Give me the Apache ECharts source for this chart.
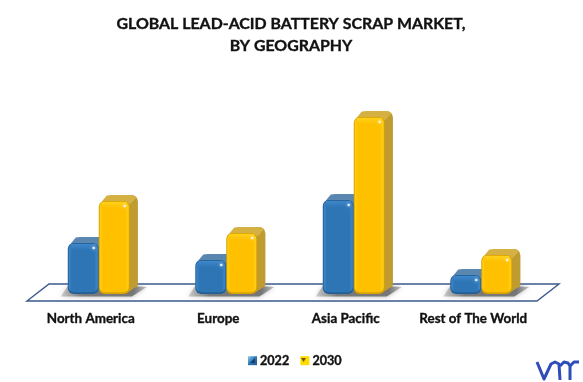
<!DOCTYPE html>
<html><head><meta charset="utf-8">
<style>html,body{margin:0;padding:0;background:#fff}#c{width:583px;height:382px}</style>
<script src="https://cdn.jsdelivr.net/npm/echarts@6/dist/echarts.min.js"></script>
</head><body><div id="c"></div>
<script>
var categories = ['North America','Europe','Asia Pacific','Rest of The World'];
var values2022 = [51,34,94,19];
var values2030 = [93,61,177,39];

var DX = 8, DY = -7, BACK = -6;
var FONT = 'Lato';
var INK = '#111';
var looks = {
  '2022': {side:0, edge:'#235f96', face:'#2e75b6', light:'#3f88c9', top:'#5a87af', back:'#4f7ba5'},
  '2030': {side:1, edge:'#d8a200', face:'#ffc000', light:'#ffd11a', top:'#d5b144', back:'#bf9b30'}
};
function barItem(look){
  return function(params, api){
    var pTop = api.coord([api.value(0), api.value(1)]);
    var p0 = api.coord([api.value(0), 0]);
    var w = api.size([1,0])[0] * 0.243;
    var cx = p0[0] + DX;
    var x = look.side ? cx : cx - w;
    var top = pTop[1] + DY, bot = p0[1] + DY, h = bot - top;
    var r = Math.min(6, h/3);
    var kids = [];
    kids.push({type:'rect', shape:{x:x+DX, y:top+BACK, width:w, height:h, r:r}, style:{fill:look.back}});
    kids.push({type:'polygon', shape:{points:[
      [x+1,top+3],[x+DX,top+BACK+0.5],[x+DX+5,top+BACK],[x+w+DX-5,top+BACK],[x+w+DX-1.5,top+BACK+2.5],[x+w-1,top+5]
    ]}, style:{fill:look.top}});
    kids.push({type:'polygon', shape:{points:[
      [x+w-3,bot-1],[x+w+DX,bot+BACK-2],[x+w+DX,top+BACK+r],[x+w-3,top+4]
    ]}, style:{fill:look.back}});
    kids.push({type:'rect', shape:{x:x, y:top, width:w, height:h, r:r}, style:{fill:look.edge}});
    kids.push({type:'rect', shape:{x:x+1, y:top+0.8, width:w-2, height:h-2.6, r:r-1}, style:{
      fill:new echarts.graphic.LinearGradient(0,0,1,0,[
        {offset:0,color:look.light},{offset:0.1,color:look.face},{offset:0.88,color:look.face},{offset:1,color:look.light}
      ])}});
    kids.push({type:'rect', shape:{x:x+3, y:top+1, width:w-6, height:Math.min(6,h/3)}, style:{
      fill:new echarts.graphic.LinearGradient(0,0,0,1,[
        {offset:0,color:look.light},{offset:1,color:look.face}
      ])}});
    kids.push({type:'circle', shape:{cx:x+w-5, cy:top+5, r:1.3},
      style:{fill:'#ffffff', opacity:0.8, shadowBlur:3, shadowColor:'#ffffff'}});
    return {type:'group', children:kids};
  };
}
function shadowItem(params, api){
  var p0 = api.coord([api.value(0), 0]);
  var w = api.size([1,0])[0] * 0.243;
  var cx = p0[0] + DX, bot = p0[1] + DY;
  return {type:'polygon', silent:true, shape:{points:[
    [cx-w-7,bot+2.5],[cx+w+2,bot+2.5],[cx+w+17,bot-7],[cx+w,bot-8],[cx-w,bot-8]
  ]}, style:{
    fill:new echarts.graphic.LinearGradient(0,0,1,0,[
      {offset:0,color:'rgba(150,150,150,0.4)'},{offset:0.25,color:'rgba(110,110,110,0.85)'},
      {offset:0.85,color:'rgba(110,110,110,0.9)'},{offset:1,color:'rgba(150,150,150,0.55)'}
    ]),
    shadowBlur:5, shadowColor:'rgba(130,130,130,0.75)'}};
}
function floorItem(params, api){
  var c = params.coordSys, bY = c.y + c.height, l = c.x, r = c.x + c.width;
  return {type:'polygon', silent:true, shape:{points:[[l,bY],[r,bY],[r+22,bY-17],[l+22,bY-17]]},
    style:{fill:'#ffffff', stroke:'#3b5a8c', lineWidth:1.4}};
}
var chart = echarts.init(document.getElementById('c'), null, {renderer:'canvas'});
var logoStyle = {fill:'none',stroke:'#2f4db8',lineWidth:3,lineJoin:'round'};
var heavy = {textBorderColor:INK, textBorderWidth:0.35};
chart.setOption({
  animation:false,
  backgroundColor:'#fff',
  title:{
    text:'GLOBAL LEAD-ACID BATTERY SCRAP MARKET,\nBY GEOGRAPHY',
    left:286, top:8, textAlign:'center',
    textStyle:Object.assign({fontFamily:FONT, fontSize:15.9, fontWeight:'bold', color:INK, lineHeight:22}, heavy)
  },
  legend:{
    data:['2022','2030'], left:243, top:349, itemWidth:9, itemHeight:9, itemGap:11,
    icon:'rect', selectedMode:false,
    textStyle:Object.assign({fontFamily:FONT, fontSize:12.6, fontWeight:'bold', color:INK, padding:[0,0,0,-2]}, heavy)
  },
  grid:{left:27, width:510, top:101, height:200},
  xAxis:{type:'category', data:categories,
    axisLine:{show:false}, axisTick:{show:false},
    axisLabel:Object.assign({fontFamily:FONT, fontSize:13.4, fontWeight:'bold', color:INK, margin:11, interval:0}, heavy)},
  yAxis:{type:'value', min:0, max:200, show:false, splitLine:{show:false}},
  series:[
    {type:'custom', name:'floor', data:[[0,0]], renderItem:floorItem, silent:true, z:1},
    {type:'custom', name:'shadow', data:values2022.map(function(v,i){return [i,0];}), renderItem:shadowItem, silent:true, z:1},
    {type:'custom', name:'2022', data:values2022.map(function(v,i){return [i,v];}), encode:{x:0,y:1},
      renderItem:barItem(looks['2022']), z:2,
      itemStyle:{color:new echarts.graphic.LinearGradient(0,0,1,1,[{offset:0,color:'#8fd0ef'},{offset:0.5,color:'#2e75b6'},{offset:1,color:'#1f5a90'}])}},
    {type:'custom', name:'2030', data:values2030.map(function(v,i){return [i,v];}), encode:{x:0,y:1},
      renderItem:barItem(looks['2030']), z:3,
      itemStyle:{color:'#ffdc00'}}
  ],
  graphic:[
    {type:'polygon', silent:true, shape:{points:[[250,363],[255,358],[255,363]]}, style:{fill:'#123f70'}, z:10},
    {type:'polygon', silent:true, shape:{points:[[301,358],[306,358],[303.5,362]]}, style:{fill:'#6b5a10'}, z:10},
    {type:'polyline', silent:true, shape:{points:[[537,362],[544,379],[551,364],[555,362],[559,364],[560,380]]}, style:logoStyle},
    {type:'polyline', silent:true, shape:{points:[[560,366],[564,362],[568,363],[570,366],[570,380]]}, style:logoStyle},
    {type:'polyline', silent:true, shape:{points:[[570,366],[574,362],[579,362]]}, style:logoStyle}
  ]
});
</script></body></html>
